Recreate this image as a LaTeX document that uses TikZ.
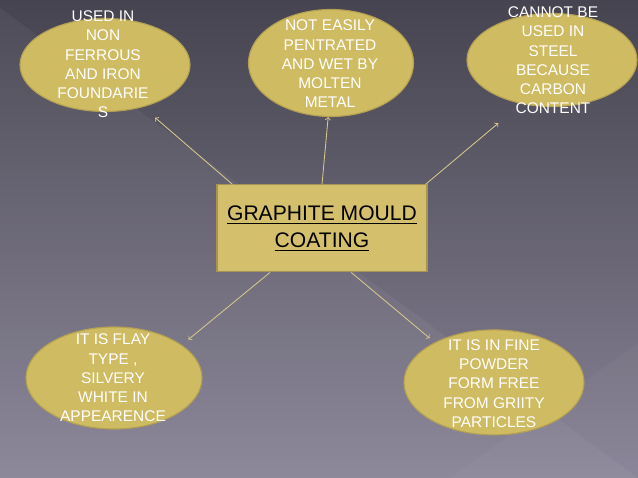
\documentclass[tikz,border=0pt]{standalone}
\usepackage{fontspec}
\setmainfont{Liberation Sans}
\usetikzlibrary{shapes.geometric}
\definecolor{bgtop}{RGB}{70,68,80}
\definecolor{bgbot}{RGB}{136,131,150}
\definecolor{khaki}{RGB}{207,187,98}
\definecolor{khakiedge}{RGB}{180,160,82}
\definecolor{boxfill}{RGB}{212,192,108}
\definecolor{boxedge}{RGB}{165,148,82}
\definecolor{arrowcol}{RGB}{214,200,140}

\begin{document}
\begin{tikzpicture}[
        blob/.style={ellipse, fill=khaki, draw=khakiedge, line width=0.8pt},
        blobtext/.style={align=center, text=white, inner sep=0pt, font=\fontsize{11}{13.7}\selectfont},
        link/.style={->, arrowcol, line width=0.6pt}
    ]
        \useasboundingbox (0,0) rectangle (15.95,11.95);
        \shade[top color=bgtop, bottom color=bgbot] (0,0) rectangle (15.95,11.95);
        \fill[white, opacity=0.045] (0,11.75) -- (15.95,0) -- (0,0) -- cycle;
        \fill[white, opacity=0.03] (15.95,3.375) -- (11.25,0) -- (15.95,0) -- cycle;

        \node[draw=boxedge, fill=boxfill, line width=0.8pt, minimum width=5.25cm, minimum height=2.175cm,
            align=center, font=\fontsize{15}{19.2}\selectfont] (box) at (8.05,6.24)
            {\underline{GRAPHITE MOULD}\\\underline{COATING}};

        \node[blob, minimum width=4.25cm, minimum height=2.325cm] (e1) at (2.625,10.325) {};
        \node[blob, minimum width=4.125cm, minimum height=2.675cm] (e2) at (8.275,10.375) {};
        \node[blob, minimum width=4.25cm, minimum height=2.325cm] (e3) at (13.8,10.45) {};
        \node[blob, minimum width=4.4cm, minimum height=2.55cm] (e4) at (2.85,2.5) {};
        \node[blob, minimum width=4.5cm, minimum height=2.625cm] (e5) at (12.35,2.39) {};

        \node[blobtext] (t1) at (2.575,10.34) {USED IN\\NON\\FERROUS\\AND IRON\\FOUNDARIE\\S};
        \node[blobtext] (t2) at (8.25,10.35) {NOT EASILY\\PENTRATED\\AND WET BY\\MOLTEN\\METAL};
        \node[blobtext] (t3) at (13.825,10.44) {CANNOT BE\\USED IN\\STEEL\\BECAUSE\\CARBON\\CONTENT};
        \node[blobtext] (t4) at (2.825,2.5) {IT IS FLAY\\TYPE ,\\SILVERY\\WHITE IN\\APPEARENCE};
        \node[blobtext] (t5) at (12.35,2.36) {IT IS IN FINE\\POWDER\\FORM FREE\\FROM GRIITY\\PARTICLES};

        \draw[link, shorten >=0.4cm] ([xshift=0.4cm]box.north west) -- (e1.312);
        \draw[link] (box.north) -- (e2.267);
        \draw[link, shorten >=0.75cm] ([xshift=-0.05cm]box.north east) -- (e3.235);
        \draw[link, shorten >=0.21cm] ([xshift=-1.3cm]box.south) -- (e4.26);
        \draw[link, shorten >=0.16cm] ([xshift=0.73cm]box.south) -- (e5.146);
    \end{tikzpicture}
\end{document}
